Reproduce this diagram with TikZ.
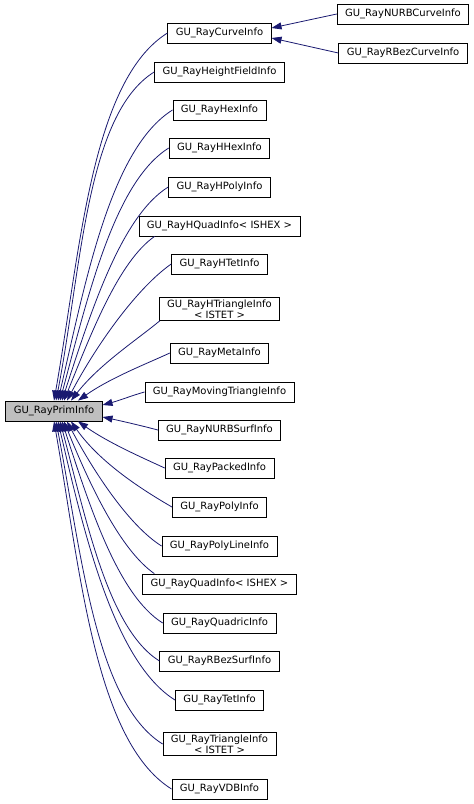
\documentclass[tikz,border=0pt]{standalone}
\usepackage{fontspec}
\setmainfont{DejaVu Sans}
\usetikzlibrary{arrows.meta}
\definecolor{edgeblue}{HTML}{191970}
\definecolor{rootgray}{HTML}{BFBFBF}
\tikzset{
  classbox/.style={draw=black, fill=white, line width=0.8pt, inner xsep=8pt, inner ysep=2pt,
    minimum height=20pt, align=center, font=\fontsize{10}{11}\selectfont},
  inherit/.style={draw=edgeblue, line width=0.8pt, {Triangle[length=10pt,width=7pt]}-}
}
\begin{document}
\begin{tikzpicture}[x=1pt,y=1pt]
  \useasboundingbox (0,0) rectangle (474,-804);
  \node[classbox, fill=rootgray] (prim) at (54,-411) {GU\_RayPrimInfo};
  \foreach \nm/\yy/\txt in {curve/33/GU\_RayCurveInfo, heightfield/72/GU\_RayHeightFieldInfo,
      hex/110/GU\_RayHexInfo, hhex/148/GU\_RayHHexInfo, hpoly/187/GU\_RayHPolyInfo,
      hquad/226/GU\_RayHQuadInfo< ISHEX >, htet/264/GU\_RayHTetInfo,
      htri/309/{GU\_RayHTriangleInfo\\< ISTET >}, meta/353/GU\_RayMetaInfo,
      movtri/392/GU\_RayMovingTriangleInfo, nurbsurf/430/GU\_RayNURBSurfInfo,
      packed/468/GU\_RayPackedInfo, poly/507/GU\_RayPolyInfo, polyline/546/GU\_RayPolyLineInfo,
      quad/584/GU\_RayQuadInfo< ISHEX >, quadric/623/GU\_RayQuadricInfo,
      rbezsurf/661/GU\_RayRBezSurfInfo, tet/700/GU\_RayTetInfo,
      tri/744/{GU\_RayTriangleInfo\\< ISTET >}, vdb/789/GU\_RayVDBInfo}
    \node[classbox] (\nm) at (219.5,-\yy) {\txt};
  \node[classbox] (nurbcurve) at (403,-14) {GU\_RayNURBCurveInfo};
  \node[classbox] (rbezcurve) at (403,-53) {GU\_RayRBezCurveInfo};

  % edges into the base class
  \foreach \nm/\an/\dx/\dy/\ao/\ai/\ca/\cx in {curve/north/0/0/80/212/west/0,
      heightfield/north/2/0/79/212/west/0, hex/north/4/0/77/212/west/0,
      hhex/north/6/0/75/212/west/0, hpoly/north/8/0/72/212/west/0,
      hquad/north/10/0/68/215/south west/16, htet/north/13/0/62/215/west/0,
      htri/north/17/0/52/220/south west/1, meta/north/24/0/35/205/west/0,
      movtri/east/0/6/15/195/west/0, nurbsurf/east/0/-6/-12/165/west/0,
      packed/south/24/0/-35/155/west/0, poly/south/17/0/-55/150/west/0,
      polyline/south/13/0/-62/148/west/0, quad/south/10/0/-68/145/north west/12,
      quadric/south/8/0/-72/148/west/0, rbezsurf/south/6/0/-75/148/west/0,
      tet/south/4/0/-77/148/west/0, tri/south/2/0/-79/148/west/0,
      vdb/south/0/0/-80/148/west/0}
    \draw[inherit] ([xshift=\dx,yshift=\dy]prim.\an) to[out=\ao, in=\ai, in looseness=0.6]
      ([xshift=\cx]\nm.\ca);
  \draw[inherit] ([yshift=5]curve.east) -- (nurbcurve.west);
  \draw[inherit] ([yshift=-5]curve.east) -- (rbezcurve.west);
\end{tikzpicture}
\end{document}
